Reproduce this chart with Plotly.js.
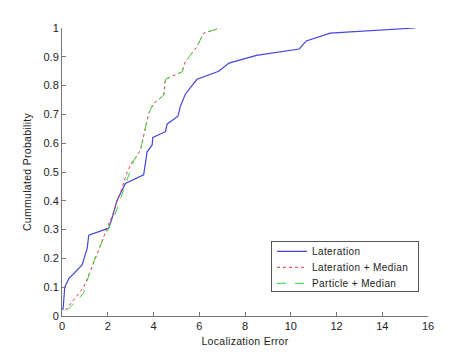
<!DOCTYPE html>
<html>
<head>
<meta charset="utf-8">
<script src="https://cdn.plot.ly/plotly-3.0.1.min.js"></script>
<style>
html,body{margin:0;padding:0;background:#fff;}
#chart{width:474px;height:356px;}
.xtitle,.ytitle{letter-spacing:0.3px;}
.legendtext{letter-spacing:0.4px;}
</style>
</head>
<body>
<div id="chart"></div>
<script>
var seriesNames = ["Lateration", "Lateration + Median", "Particle + Median"];

var laterationX = [0.03, 0.05, 0.12, 0.3, 0.88, 1.1, 1.17, 1.6, 2.04, 2.19, 2.4, 2.77, 3.57, 3.72, 3.94, 3.97, 4.52, 4.6, 5.07, 5.17, 5.39, 5.9, 6.85, 7.3, 8.5, 10.37, 10.68, 11.72, 15.44];
var laterationY = [0.02, 0.027, 0.10, 0.13, 0.177, 0.235, 0.281, 0.293, 0.305, 0.34, 0.40, 0.46, 0.49, 0.57, 0.594, 0.62, 0.64, 0.667, 0.694, 0.727, 0.77, 0.822, 0.85, 0.878, 0.905, 0.927, 0.955, 0.982, 1.0];

var latMedianX = [0.15, 0.95, 1.32, 1.76, 2.04, 2.19, 2.41, 2.55, 2.85, 3.07, 3.14, 3.43, 3.57, 3.79, 4.01, 4.45, 4.52, 5.25, 5.39, 5.9, 6.19, 6.92];
var latMedianY = [0.02, 0.10, 0.171, 0.264, 0.32, 0.345, 0.40, 0.426, 0.50, 0.535, 0.54, 0.576, 0.623, 0.704, 0.738, 0.767, 0.822, 0.848, 0.883, 0.935, 0.982, 1.0];

var particleX = [0.23, 0.95, 1.0, 1.46, 1.68, 2.04, 2.34, 2.77, 2.99, 3.14, 3.43, 3.57, 3.79, 4.01, 4.45, 4.52, 5.25, 5.39, 5.9, 6.19, 6.92];
var particleY = [0.02, 0.079, 0.10, 0.206, 0.245, 0.305, 0.357, 0.455, 0.507, 0.54, 0.576, 0.623, 0.704, 0.738, 0.767, 0.822, 0.848, 0.883, 0.935, 0.982, 1.0];

var xTicks = [0, 2, 4, 6, 8, 10, 12, 14, 16];
var yTicks = [0, 0.1, 0.2, 0.3, 0.4, 0.5, 0.6, 0.7, 0.8, 0.9, 1];
var yTickText = ["0", "0.1", "0.2", "0.3", "0.4", "0.5", "0.6", "0.7", "0.8", "0.9", "1"];

var traces = [
  {x: laterationX, y: laterationY, name: seriesNames[0], type: "scatter", mode: "lines",
   line: {color: "#4444dc", width: 1.2}},
  {x: latMedianX, y: latMedianY, name: seriesNames[1], type: "scatter", mode: "lines",
   line: {color: "#e8353a", width: 1, dash: "dot"}},
  {x: particleX, y: particleY, name: seriesNames[2], type: "scatter", mode: "lines",
   line: {color: "#3fd43f", width: 1, dash: "dash"}}
];

var axisFont = {family: "Liberation Sans, Arial, sans-serif", size: 11, color: "#222"};
var titleFont = {family: "Liberation Sans, Arial, sans-serif", size: 10.5, color: "#222"};

var layout = {
  width: 474, height: 356,
  margin: {l: 62, r: 46, t: 28, b: 40},
  paper_bgcolor: "#fff", plot_bgcolor: "#fff",
  showlegend: true,
  legend: {
    x: 0.571, y: 0.261, xanchor: "left", yanchor: "top",
    bordercolor: "#555", borderwidth: 1, bgcolor: "#fff",
    font: {family: "Liberation Sans, Arial, sans-serif", size: 10, color: "#222"},
    tracegroupgap: 0, itemwidth: 30
  },
  xaxis: {
    range: [0, 16], tickvals: xTicks, ticktext: xTicks.map(String),
    ticks: "inside", ticklen: 4, tickcolor: "#777", tickwidth: 1,
    showline: true, linecolor: "#777", linewidth: 1, mirror: false,
    showgrid: false, zeroline: false,
    tickfont: axisFont,
    title: {text: "Localization Error", font: titleFont, standoff: 6}
  },
  yaxis: {
    range: [0, 1], tickvals: yTicks, ticktext: yTickText,
    ticks: "inside", ticklen: 4, tickcolor: "#777", tickwidth: 1,
    showline: true, linecolor: "#777", linewidth: 1, mirror: false,
    showgrid: false, zeroline: false,
    tickfont: axisFont,
    title: {text: "Cummulated Probability", font: titleFont, standoff: 9}
  }
};

function compactLegend() {
  var leg = document.querySelector("#chart .legend");
  if (!leg) return;
  var items = leg.querySelectorAll(".traces");
  var y0 = null;
  items.forEach(function (it, i) {
    var tr = it.getAttribute("transform") || "";
    var m = tr.match(/translate\(\s*([-\d.]+)[ ,]+([-\d.]+)\s*\)/);
    if (!m) return;
    var x = parseFloat(m[1]), y = parseFloat(m[2]);
    if (y0 === null) y0 = y - 5;
    it.setAttribute("transform", "translate(" + x + "," + (y0 + 16 * i) + ")");
  });
  var bg = leg.querySelector("rect.bg");
  if (bg) {
    bg.setAttribute("height", 50);
    bg.setAttribute("width", 147);
  }
}

Plotly.newPlot("chart", traces, layout, {displayModeBar: false, staticPlot: true}).then(compactLegend);
</script>
</body>
</html>
